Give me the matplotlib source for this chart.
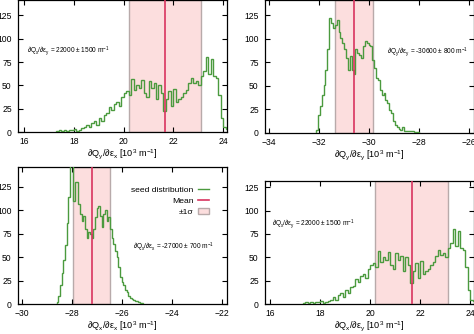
import numpy as np
import matplotlib
matplotlib.use("Agg")
import matplotlib.pyplot as plt
from matplotlib.patches import Patch
from matplotlib.lines import Line2D

plt.rcParams['font.family'] = ['Liberation Sans', 'DejaVu Sans']
plt.rcParams['mathtext.fontset'] = 'custom'
plt.rcParams['mathtext.rm'] = 'Liberation Sans'
plt.rcParams['mathtext.it'] = 'Liberation Sans:italic'
plt.rcParams['mathtext.default'] = 'regular'

# ---------------- data ----------------
# Q_y / eps_x  (also shown as Q_x/eps_y bottom right)
xy_start = 17.3
xy_width = 0.1
xy_counts = [1, 2, 1, 2, 1, 2, 2, 3, 1, 2, 4, 5, 8, 5, 10, 12, 8, 15, 12, 18,
             20, 27, 24, 30, 32, 28, 38, 42, 44, 40, 57, 45, 50, 47, 56, 42,
             38, 55, 47, 52, 35, 50, 42, 23, 35, 44, 28, 46, 32, 35, 38, 42,
             45, 52, 58, 53, 55, 50, 60, 65, 80, 62, 78, 60, 58, 40, 15, 5, 3]
xy_mean = 21.66
xy_sigma = 1.45

# Q_y / eps_y
yy_start = -32.12
yy_width = 0.075
yy_counts = [3, 19, 28, 40, 51, 67, 89, 122, 117, 112, 115, 120, 107, 101, 96,
             89, 80, 67, 82, 67, 63, 89, 85, 83, 80, 92, 98, 96, 93, 92, 78,
             69, 58, 56, 45, 40, 42, 35, 32, 24, 21, 12, 8, 6, 4, 3, 6, 2, 2,
             2, 2, 2, 1, 1, 1]
yy_mean = -30.61
yy_sigma = 0.76

# Q_x / eps_x
xx_start = -28.62
xx_width = 0.0667
xx_counts = [2, 9, 20, 33, 47, 63, 86, 114, 150, 150, 110, 130, 130, 107, 96,
             89, 94, 80, 70, 77, 75, 70, 80, 93, 102, 105, 94, 82, 96, 100, 89,
             93, 80, 71, 64, 57, 50, 40, 29, 24, 20, 15, 13, 9, 7, 6, 5, 4, 3,
             2, 1, 1]
xx_mean = -27.22
xx_sigma = 0.74

labels_x = [r'∂Q$_y$/∂ε$_x$ [10$^3$ m$^{-1}$]', r'∂Q$_y$/∂ε$_y$ [10$^3$ m$^{-1}$]',
            r'∂Q$_x$/∂ε$_x$ [10$^3$ m$^{-1}$]', r'∂Q$_x$/∂ε$_y$ [10$^3$ m$^{-1}$]']
notes = [r'∂Q$_x$/∂ε$_y$ = 22000 ± 1500 m$^{-1}$',
         r'∂Q$_y$/∂ε$_y$ = -30600 ± 800 m$^{-1}$',
         r'∂Q$_x$/∂ε$_x$ = -27000 ± 700 m$^{-1}$',
         r'∂Q$_x$/∂ε$_y$ = 22000 ± 1500 m$^{-1}$']
yticks = [0, 25, 50, 75, 100, 125]

GREEN = '#4b9a3e'
PINK = '#fcdede'
BANDEDGE = '#b8aaaa'
RED = '#d8345f'

W, H = 474, 334
fig = plt.figure(figsize=(W / 100, H / 100), dpi=100)


def px_axes(l, r, b, t):
    return fig.add_axes([l / W, 1 - b / H, (r - l) / W, (b - t) / H])


def panel(ax, start, width, counts, mean, sigma, xlim, ylim, xticks, xlabel,
          note, note_xy):
    counts = np.asarray(counts, dtype=float)
    edges = start + width * np.arange(len(counts) + 1)
    ax.axvspan(mean - sigma, mean + sigma, facecolor=PINK, edgecolor=BANDEDGE,
               lw=1.0, zorder=1)
    ax.stairs(counts, edges, baseline=0, color=GREEN, lw=1.0, zorder=3)
    ax.axvline(mean, color=RED, lw=1.2, zorder=4)
    ax.set_xlim(*xlim)
    ax.set_ylim(*ylim)
    ax.set_xticks(xticks)
    ax.set_yticks(yticks)
    ax.tick_params(direction='in', top=True, right=True, length=3.5, width=0.8,
                   labelsize=6.2, pad=3.5)
    ax.tick_params(axis='y', pad=4.5)
    ax.set_xlabel(xlabel, fontsize=6.6, labelpad=1.0)
    for s in ax.spines.values():
        s.set_linewidth(0.9)
    ax.text(note_xy[0], note_xy[1], note, fontsize=4.7, va='center', ha='left',
            zorder=5)


ax1 = px_axes(18, 227, 132, -0.5)
panel(ax1, xy_start, xy_width, xy_counts, xy_mean, xy_sigma,
      (15.76, 24.15), (0, 142), [16, 18, 20, 22, 24], labels_x[0], notes[0],
      (16.12, 86))

ax2 = px_axes(265, 474, 132.7, -0.5)
panel(ax2, yy_start, yy_width, yy_counts, yy_mean, yy_sigma,
      (-34.16, -25.8), (0, 142), [-34, -32, -30, -28, -26], labels_x[1],
      notes[1], (-29.28, 86))

ax3 = px_axes(18, 227, 304.3, 167)
panel(ax3, xx_start, xx_width, xx_counts, xx_mean, xx_sigma,
      (-30.16, -21.8), (0, 146), [-30, -28, -26, -24, -22], labels_x[2],
      notes[2], (-25.56, 61))

ax4 = px_axes(265, 474, 304.3, 181)
panel(ax4, xy_start, xy_width, xy_counts, xy_mean, xy_sigma,
      (15.8, 24.16), (0, 131.5), [16, 18, 20, 22, 24], labels_x[3], notes[3],
      (16.07, 85.6))

handles = [Line2D([], [], color=GREEN, lw=1.0),
           Line2D([], [], color=RED, lw=1.2),
           Patch(facecolor=PINK, edgecolor=BANDEDGE, lw=1.0)]
ax3.legend(handles, ['seed distribution', 'Mean', '±1σ'], loc='upper right',
           bbox_to_anchor=(0.93, 0.89), frameon=False, markerfirst=False,
           fontsize=6.1, handlelength=1.3, handleheight=0.8, handletextpad=0.5,
           labelspacing=0.35, borderaxespad=0)

fig.savefig('out.png', dpi=100)
